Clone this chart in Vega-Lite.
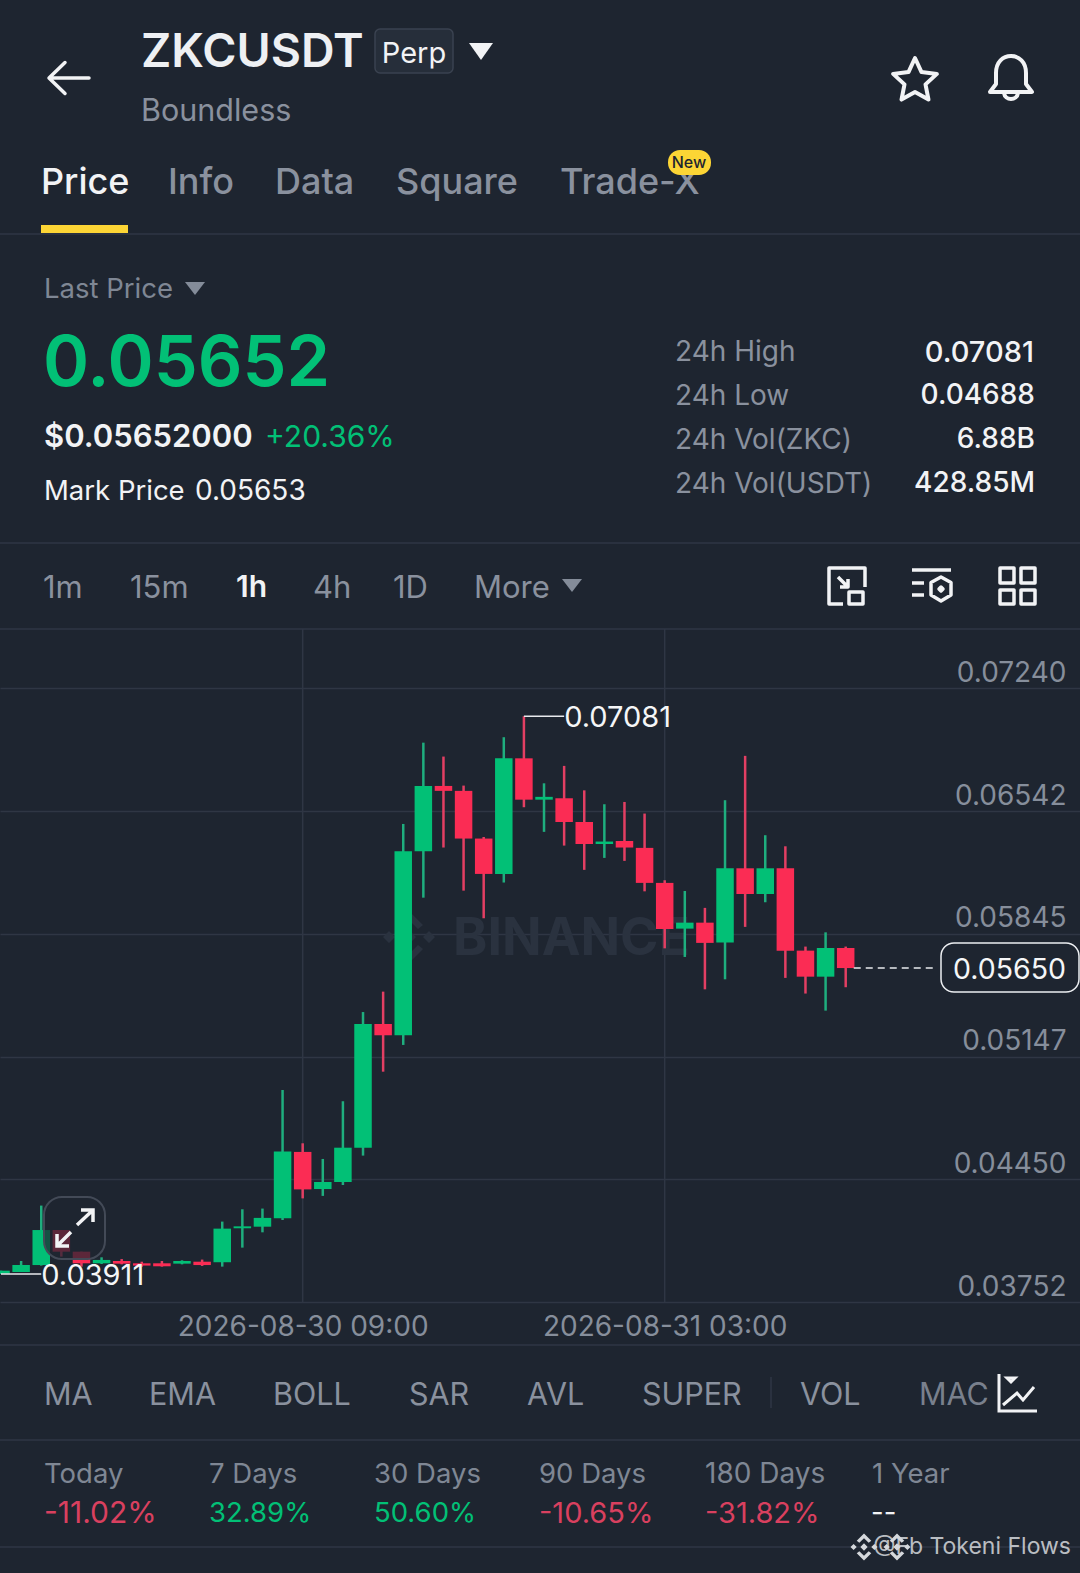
{
  "$schema": "https://vega.github.io/schema/vega-lite/v6.json",
  "width": 1080,
  "height": 1573,
  "padding": 0,
  "autosize": {"type": "none"},
  "background": "#1e2530",
  "config": {
    "view": {"stroke": null},
    "text": {"font": "Inter", "baseline": "middle", "align": "left", "dy": 2},
    "style": {
      "title": {"fontSize": 46, "fontWeight": 600, "color": "#eef0f3"},
      "tabOn": {"fontSize": 36, "fontWeight": 500, "color": "#f2f3f5"},
      "tab": {"fontSize": 36, "fontWeight": 500, "color": "#8a919e"},
      "grey": {"fontSize": 31, "color": "#8a919e"},
      "greySmall": {"fontSize": 27.5, "color": "#7f8794"},
      "white": {"fontSize": 27.5, "color": "#f2f3f5"},
      "stat": {"fontSize": 28, "fontWeight": 500, "color": "#f2f3f5", "align": "right"},
      "red": {"fontSize": 29, "color": "#d9405f"},
      "green": {"fontSize": 27.5, "color": "#02c076"},
      "price": {"fontSize": 29, "color": "#f5f6f7"}
    }
  },
  "datasets": {
    "candles": [
      {"t": "2026-08-29T18:00", "open": 0.03913, "high": 0.0393, "low": 0.03911, "close": 0.0393},
      {"t": "2026-08-29T19:00", "open": 0.03923, "high": 0.03985, "low": 0.03923, "close": 0.03962},
      {"t": "2026-08-29T20:00", "open": 0.03962, "high": 0.043, "low": 0.03959, "close": 0.04161},
      {"t": "2026-08-29T21:00", "open": 0.04161, "high": 0.04161, "low": 0.0401, "close": 0.04038},
      {"t": "2026-08-29T22:00", "open": 0.04038, "high": 0.04038, "low": 0.03953, "close": 0.03972},
      {"t": "2026-08-29T23:00", "open": 0.03972, "high": 0.04006, "low": 0.03968, "close": 0.03991},
      {"t": "2026-08-30T00:00", "open": 0.03985, "high": 0.03996, "low": 0.03966, "close": 0.0397},
      {"t": "2026-08-30T01:00", "open": 0.03972, "high": 0.03981, "low": 0.03953, "close": 0.03959},
      {"t": "2026-08-30T02:00", "open": 0.03972, "high": 0.03985, "low": 0.03953, "close": 0.03955},
      {"t": "2026-08-30T03:00", "open": 0.0397, "high": 0.03989, "low": 0.03966, "close": 0.03985},
      {"t": "2026-08-30T04:00", "open": 0.03981, "high": 0.03993, "low": 0.03957, "close": 0.03962},
      {"t": "2026-08-30T05:00", "open": 0.03978, "high": 0.04209, "low": 0.03953, "close": 0.04169},
      {"t": "2026-08-30T06:00", "open": 0.04171, "high": 0.04279, "low": 0.04061, "close": 0.04182},
      {"t": "2026-08-30T07:00", "open": 0.0418, "high": 0.04283, "low": 0.04148, "close": 0.0423},
      {"t": "2026-08-30T08:00", "open": 0.04228, "high": 0.04957, "low": 0.04218, "close": 0.04607},
      {"t": "2026-08-30T09:00", "open": 0.04605, "high": 0.04654, "low": 0.04341, "close": 0.04392},
      {"t": "2026-08-30T10:00", "open": 0.04394, "high": 0.04565, "low": 0.04355, "close": 0.04434},
      {"t": "2026-08-30T11:00", "open": 0.04434, "high": 0.04893, "low": 0.04417, "close": 0.04629},
      {"t": "2026-08-30T12:00", "open": 0.04629, "high": 0.054, "low": 0.04584, "close": 0.05332},
      {"t": "2026-08-30T13:00", "open": 0.05332, "high": 0.05516, "low": 0.05061, "close": 0.05268},
      {"t": "2026-08-30T14:00", "open": 0.05268, "high": 0.06469, "low": 0.05213, "close": 0.06314},
      {"t": "2026-08-30T15:00", "open": 0.06314, "high": 0.06931, "low": 0.0605, "close": 0.06685},
      {"t": "2026-08-30T16:00", "open": 0.06685, "high": 0.06852, "low": 0.06335, "close": 0.06657},
      {"t": "2026-08-30T17:00", "open": 0.06657, "high": 0.06687, "low": 0.0609, "close": 0.06386},
      {"t": "2026-08-30T18:00", "open": 0.06386, "high": 0.06395, "low": 0.05933, "close": 0.06185},
      {"t": "2026-08-30T19:00", "open": 0.06185, "high": 0.06962, "low": 0.06136, "close": 0.06842},
      {"t": "2026-08-30T20:00", "open": 0.06842, "high": 0.07081, "low": 0.06564, "close": 0.06607},
      {"t": "2026-08-30T21:00", "open": 0.06607, "high": 0.067, "low": 0.06424, "close": 0.06623},
      {"t": "2026-08-30T22:00", "open": 0.06615, "high": 0.06799, "low": 0.06346, "close": 0.0648},
      {"t": "2026-08-30T23:00", "open": 0.0648, "high": 0.0666, "low": 0.06208, "close": 0.06355},
      {"t": "2026-08-31T00:00", "open": 0.06355, "high": 0.06581, "low": 0.06276, "close": 0.06369},
      {"t": "2026-08-31T01:00", "open": 0.06372, "high": 0.06594, "low": 0.06259, "close": 0.06335},
      {"t": "2026-08-31T02:00", "open": 0.06333, "high": 0.06528, "low": 0.06086, "close": 0.06134},
      {"t": "2026-08-31T03:00", "open": 0.06134, "high": 0.06149, "low": 0.05762, "close": 0.05872},
      {"t": "2026-08-31T04:00", "open": 0.05874, "high": 0.06088, "low": 0.05713, "close": 0.05908},
      {"t": "2026-08-31T05:00", "open": 0.05908, "high": 0.05992, "low": 0.05529, "close": 0.05793},
      {"t": "2026-08-31T06:00", "open": 0.05795, "high": 0.06604, "low": 0.05586, "close": 0.06217},
      {"t": "2026-08-31T07:00", "open": 0.06217, "high": 0.06856, "low": 0.05884, "close": 0.06071},
      {"t": "2026-08-31T08:00", "open": 0.06071, "high": 0.06405, "low": 0.06024, "close": 0.06217},
      {"t": "2026-08-31T09:00", "open": 0.06217, "high": 0.06342, "low": 0.05594, "close": 0.05749},
      {"t": "2026-08-31T10:00", "open": 0.05749, "high": 0.05772, "low": 0.05505, "close": 0.05601},
      {"t": "2026-08-31T11:00", "open": 0.05601, "high": 0.05853, "low": 0.05408, "close": 0.05764},
      {"t": "2026-08-31T12:00", "open": 0.05764, "high": 0.05772, "low": 0.05541, "close": 0.0565}
    ]
  },
  "layer": [
    {
      "data": {"values": [{"t": "2026-08-30T09:00", "top": 0.07577, "bottom": 0.03752}, {"t": "2026-08-31T03:00", "top": 0.07577, "bottom": 0.03752}]},
      "mark": {"type": "rule", "color": "#2f3644", "strokeWidth": 1.5},
      "encoding": {
        "x": {
          "field": "t", "type": "temporal", "title": null,
          "scale": {"domain": ["2026-08-29T17:57", "2026-08-31T23:39"], "range": [0, 1080], "padding": 0},
          "axis": {
            "orient": "bottom", "offset": -271, "values": ["2026-08-30T09:00", "2026-08-31T03:00"], "format": "%Y-%m-%d %H:%M",
            "grid": false, "domain": false, "ticks": false, "labelPadding": 11, "labelFont": "Inter", "labelFontSize": 28,
            "labelColor": "#868e9b", "labelOverlap": false, "labelFlush": false, "labelLimit": 400
          }
        },
        "y": {
          "field": "bottom", "type": "quantitative", "title": null,
          "scale": {"domain": [0.03752, 0.07577], "range": [1302, 629], "zero": false, "nice": false},
          "axis": {
            "orient": "right", "values": [0.03752, 0.0445, 0.05147, 0.05845, 0.06542, 0.0724], "format": ".5f",
            "grid": true, "gridColor": "#2f3644", "gridWidth": 1.5, "domain": false, "ticks": false,
            "labelPadding": -14, "labelAlign": "right", "labelBaseline": "middle", "labelOffset": -15,
            "labelFont": "Inter", "labelFontSize": 28, "labelColor": "#868e9b", "labelOverlap": false, "labelFlush": false
          }
        },
        "y2": {"field": "top"}
      }
    },
    {
      "data": {"values": [{"label": "BINANCE"}]},
      "mark": {"type": "text", "fontSize": 52, "fontWeight": 700, "color": "#2a323f"},
      "encoding": {"x": {"value": 453}, "y": {"value": 937}, "text": {"field": "label"}}
    },
    {
      "data": {"values": [{"item": "watermark logo"}]},
      "mark": {"type": "point", "filled": true, "opacity": 1, "color": "#2a323f", "size": 4, "shape": "M0,-7L7,0L0,7L-7,0Z M-26,0L-20,-6L-14,0L-20,6Z M26,0L20,-6L14,0L20,6Z M0,-26L14,-12L9,-8L0,-17L-9,-8L-14,-12Z M0,26L14,12L9,8L0,17L-9,8L-14,12Z"},
      "encoding": {"x": {"value": 409}, "y": {"value": 937}}
    },
    {
      "data": {"name": "candles"},
      "mark": {"type": "rule", "strokeWidth": 2.5},
      "encoding": {
        "x": {"field": "t", "type": "temporal"},
        "y": {"field": "low", "type": "quantitative"},
        "y2": {"field": "high"},
        "color": {"condition": {"test": "datum.close >= datum.open", "value": "#1fae7e"}, "value": "#e33f63"}
      }
    },
    {
      "data": {"name": "candles"},
      "mark": {"type": "bar", "size": 17.5},
      "encoding": {
        "x": {"field": "t", "type": "temporal"},
        "y": {"field": "open", "type": "quantitative"},
        "y2": {"field": "close"},
        "color": {"condition": {"test": "datum.close >= datum.open", "value": "#02c076"}, "value": "#fb2c54"}
      }
    },
    {
      "data": {"values": [{"item": "expand button"}]},
      "mark": {"type": "rect", "fill": "#1e2530", "fillOpacity": 0.72, "stroke": "#434a57", "strokeWidth": 2, "cornerRadius": 18},
      "encoding": {"x": {"value": 44}, "x2": {"value": 105}, "y": {"value": 1197}, "y2": {"value": 1259}}
    },
    {
      "data": {"values": [{"t": "2026-08-29T18:00", "t2": "2026-08-29T20:00", "price": 0.03911}, {"t": "2026-08-30T20:00", "t2": "2026-08-30T22:00", "price": 0.07081}]},
      "mark": {"type": "rule", "color": "#e8eaed", "strokeWidth": 1.5},
      "encoding": {
        "x": {"field": "t", "type": "temporal"},
        "x2": {"field": "t2"},
        "y": {"field": "price", "type": "quantitative"}
      }
    },
    {
      "data": {"values": [{"t2": "2026-08-29T20:00", "price": 0.03911, "label": "0.03911"}, {"t2": "2026-08-30T22:00", "price": 0.07081, "label": "0.07081"}]},
      "mark": {"type": "text", "style": "price"},
      "encoding": {
        "x": {"field": "t2", "type": "temporal"},
        "y": {"field": "price", "type": "quantitative"},
        "text": {"field": "label"}
      }
    },
    {
      "data": {"values": [{"t": "2026-08-31T12:24", "t2": "2026-08-31T16:32", "price": 0.0565}]},
      "mark": {"type": "rule", "color": "#e8eaed", "strokeWidth": 1.5, "strokeDash": [7, 5]},
      "encoding": {
        "x": {"field": "t", "type": "temporal"},
        "x2": {"field": "t2"},
        "y": {"field": "price", "type": "quantitative"}
      }
    },
    {
      "data": {"values": [{"item": "last price box"}]},
      "mark": {"type": "rect", "fill": "#1e2530", "stroke": "#eceef1", "strokeWidth": 1.5, "cornerRadius": 13},
      "encoding": {"x": {"value": 941}, "x2": {"value": 1079}, "y": {"value": 943}, "y2": {"value": 992}}
    },
    {
      "data": {"values": [{"label": "0.05650"}]},
      "mark": {"type": "text", "style": "price", "align": "right", "fontSize": 28.5},
      "encoding": {"x": {"value": 1066}, "y": {"value": 968}, "text": {"field": "label"}}
    },

    {"data": {"values": [{"item": "line"}]}, "mark": {"type": "rule", "color": "#2f3644", "strokeWidth": 1.5}, "encoding": {"x": {"value": 0}, "x2": {"value": 1080}, "y": {"value": 234}}},
    {"data": {"values": [{"item": "line"}]}, "mark": {"type": "rule", "color": "#2f3644", "strokeWidth": 1.5}, "encoding": {"x": {"value": 0}, "x2": {"value": 1080}, "y": {"value": 543}}},
    {"data": {"values": [{"item": "line"}]}, "mark": {"type": "rule", "color": "#2f3644", "strokeWidth": 1.5}, "encoding": {"x": {"value": 0}, "x2": {"value": 1080}, "y": {"value": 629}}},
    {"data": {"values": [{"item": "line"}]}, "mark": {"type": "rule", "color": "#2f3644", "strokeWidth": 1.5}, "encoding": {"x": {"value": 0}, "x2": {"value": 1080}, "y": {"value": 1345}}},
    {"data": {"values": [{"item": "line"}]}, "mark": {"type": "rule", "color": "#2f3644", "strokeWidth": 1.5}, "encoding": {"x": {"value": 0}, "x2": {"value": 1080}, "y": {"value": 1440}}},
    {"data": {"values": [{"item": "line"}]}, "mark": {"type": "rule", "color": "#2f3644", "strokeWidth": 1.5}, "encoding": {"x": {"value": 0}, "x2": {"value": 1080}, "y": {"value": 1547}}},
    {"data": {"values": [{"item": "line"}]}, "mark": {"type": "rule", "color": "#2f3644", "strokeWidth": 1.5}, "encoding": {"x": {"value": 771}, "y": {"value": 1377}, "y2": {"value": 1408}}},

    {"data": {"values": [{"label": "ZKCUSDT"}]}, "mark": {"type": "text", "style": "title", "fontSize": 46.5}, "encoding": {"x": {"value": 141}, "y": {"value": 51}, "text": {"field": "label"}}},
    {"data": {"values": [{"item": "perp badge"}]}, "mark": {"type": "rect", "fill": "#262e3a", "stroke": "#3a4250", "strokeWidth": 1.5, "cornerRadius": 5}, "encoding": {"x": {"value": 375}, "x2": {"value": 453}, "y": {"value": 29}, "y2": {"value": 73}}},
    {"data": {"values": [{"label": "Perp"}]}, "mark": {"type": "text", "style": "white", "align": "center", "fontSize": 29}, "encoding": {"x": {"value": 414}, "y": {"value": 52}, "text": {"field": "label"}}},
    {"data": {"values": [{"item": "symbol arrow"}]}, "mark": {"type": "point", "filled": true, "opacity": 1, "color": "#f2f3f5", "size": 4, "shape": "M-12,-8H12L0,9Z"}, "encoding": {"x": {"value": 481}, "y": {"value": 51}}},
    {"data": {"values": [{"label": "Boundless"}]}, "mark": {"type": "text", "style": "grey", "fontSize": 30.5}, "encoding": {"x": {"value": 141}, "y": {"value": 110}, "text": {"field": "label"}}},
    {"data": {"values": [{"item": "back"}]}, "mark": {"type": "point", "opacity": 1, "color": "#f2f3f5", "strokeWidth": 3.5, "strokeCap": "round", "strokeJoin": "round", "size": 4, "shape": "M20,0H-19M-4,-15.5L-20,0L-4,15.5"}, "encoding": {"x": {"value": 69}, "y": {"value": 78}}},
    {"data": {"values": [{"item": "star"}]}, "mark": {"type": "point", "opacity": 1, "color": "#f2f3f5", "strokeWidth": 4, "strokeJoin": "round", "size": 4, "shape": "M0,-23L6.5,-8.9L21.9,-7.1L10.5,3.4L13.5,18.6L0,11L-13.5,18.6L-10.5,3.4L-21.9,-7.1L-6.5,-8.9Z"}, "encoding": {"x": {"value": 915}, "y": {"value": 81}}},
    {"data": {"values": [{"item": "bell"}]}, "mark": {"type": "point", "opacity": 1, "color": "#f2f3f5", "strokeWidth": 4, "strokeJoin": "round", "size": 4, "shape": "M-21,14L-15,6L-15,-5C-15,-16,-8,-22,0,-22C8,-22,15,-16,15,-5L15,6L21,14Z M-7,15C-6,23,6,23,7,15"}, "encoding": {"x": {"value": 1011}, "y": {"value": 78}}},

    {"data": {"values": [{"label": "Price"}]}, "mark": {"type": "text", "style": "tabOn"}, "encoding": {"x": {"value": 41}, "y": {"value": 181}, "text": {"field": "label"}}},
    {"data": {"values": [{"label": "Info"}]}, "mark": {"type": "text", "style": "tab"}, "encoding": {"x": {"value": 168}, "y": {"value": 181}, "text": {"field": "label"}}},
    {"data": {"values": [{"label": "Data"}]}, "mark": {"type": "text", "style": "tab"}, "encoding": {"x": {"value": 275}, "y": {"value": 181}, "text": {"field": "label"}}},
    {"data": {"values": [{"label": "Square"}]}, "mark": {"type": "text", "style": "tab"}, "encoding": {"x": {"value": 396}, "y": {"value": 181}, "text": {"field": "label"}}},
    {"data": {"values": [{"label": "Trade-X"}]}, "mark": {"type": "text", "style": "tab"}, "encoding": {"x": {"value": 560}, "y": {"value": 181}, "text": {"field": "label"}}},
    {"data": {"values": [{"item": "new badge"}]}, "mark": {"type": "rect", "fill": "#fcd535", "cornerRadius": 12}, "encoding": {"x": {"value": 668}, "x2": {"value": 711}, "y": {"value": 150}, "y2": {"value": 175}}},
    {"data": {"values": [{"label": "New"}]}, "mark": {"type": "text", "align": "center", "fontSize": 16, "fontWeight": 500, "color": "#1e2530", "dy": 0}, "encoding": {"x": {"value": 689}, "y": {"value": 163}, "text": {"field": "label"}}},
    {"data": {"values": [{"item": "tab underline"}]}, "mark": {"type": "rect", "fill": "#fcd535"}, "encoding": {"x": {"value": 41}, "x2": {"value": 128}, "y": {"value": 225}, "y2": {"value": 233}}},

    {"data": {"values": [{"label": "Last Price"}]}, "mark": {"type": "text", "style": "greySmall"}, "encoding": {"x": {"value": 44}, "y": {"value": 288}, "text": {"field": "label"}}},
    {"data": {"values": [{"item": "price arrow"}]}, "mark": {"type": "point", "filled": true, "opacity": 1, "color": "#848c99", "size": 4, "shape": "M-10,-6H10L0,7Z"}, "encoding": {"x": {"value": 195}, "y": {"value": 288}}},
    {"data": {"values": [{"label": "0.05652"}]}, "mark": {"type": "text", "fontSize": 70, "fontWeight": 600, "color": "#02c076"}, "encoding": {"x": {"value": 43}, "y": {"value": 363}, "text": {"field": "label"}}},
    {"data": {"values": [{"label": "$0.05652000"}]}, "mark": {"type": "text", "fontSize": 31, "fontWeight": 600, "color": "#f2f3f5"}, "encoding": {"x": {"value": 44}, "y": {"value": 436}, "text": {"field": "label"}}},
    {"data": {"values": [{"label": "+20.36%"}]}, "mark": {"type": "text", "style": "green", "fontSize": 30}, "encoding": {"x": {"value": 265}, "y": {"value": 436}, "text": {"field": "label"}}},
    {"data": {"values": [{"label": "Mark Price"}]}, "mark": {"type": "text", "style": "white"}, "encoding": {"x": {"value": 44}, "y": {"value": 490}, "text": {"field": "label"}}},
    {"data": {"values": [{"label": "0.05653"}]}, "mark": {"type": "text", "style": "white", "fontSize": 28}, "encoding": {"x": {"value": 195}, "y": {"value": 490}, "text": {"field": "label"}}},

    {"data": {"values": [{"label": "24h High"}]}, "mark": {"type": "text", "style": "grey", "fontSize": 28}, "encoding": {"x": {"value": 675}, "y": {"value": 351}, "text": {"field": "label"}}},
    {"data": {"values": [{"label": "24h Low"}]}, "mark": {"type": "text", "style": "grey", "fontSize": 28}, "encoding": {"x": {"value": 675}, "y": {"value": 395}, "text": {"field": "label"}}},
    {"data": {"values": [{"label": "24h Vol(ZKC)"}]}, "mark": {"type": "text", "style": "grey", "fontSize": 28}, "encoding": {"x": {"value": 675}, "y": {"value": 439}, "text": {"field": "label"}}},
    {"data": {"values": [{"label": "24h Vol(USDT)"}]}, "mark": {"type": "text", "style": "grey", "fontSize": 28}, "encoding": {"x": {"value": 675}, "y": {"value": 483}, "text": {"field": "label"}}},
    {"data": {"values": [{"label": "0.07081"}]}, "mark": {"type": "text", "style": "stat", "fontSize": 29}, "encoding": {"x": {"value": 1034}, "y": {"value": 351}, "text": {"field": "label"}}},
    {"data": {"values": [{"label": "0.04688"}]}, "mark": {"type": "text", "style": "stat"}, "encoding": {"x": {"value": 1035}, "y": {"value": 394}, "text": {"field": "label"}}},
    {"data": {"values": [{"label": "6.88B"}]}, "mark": {"type": "text", "style": "stat"}, "encoding": {"x": {"value": 1035}, "y": {"value": 438}, "text": {"field": "label"}}},
    {"data": {"values": [{"label": "428.85M"}]}, "mark": {"type": "text", "style": "stat"}, "encoding": {"x": {"value": 1035}, "y": {"value": 482}, "text": {"field": "label"}}},

    {"data": {"values": [{"label": "1m"}]}, "mark": {"type": "text", "style": "grey"}, "encoding": {"x": {"value": 43}, "y": {"value": 587}, "text": {"field": "label"}}},
    {"data": {"values": [{"label": "15m"}]}, "mark": {"type": "text", "style": "grey"}, "encoding": {"x": {"value": 130}, "y": {"value": 587}, "text": {"field": "label"}}},
    {"data": {"values": [{"label": "1h"}]}, "mark": {"type": "text", "style": "white", "fontSize": 30, "fontWeight": 600}, "encoding": {"x": {"value": 236}, "y": {"value": 586}, "text": {"field": "label"}}},
    {"data": {"values": [{"label": "4h"}]}, "mark": {"type": "text", "style": "grey"}, "encoding": {"x": {"value": 313}, "y": {"value": 587}, "text": {"field": "label"}}},
    {"data": {"values": [{"label": "1D"}]}, "mark": {"type": "text", "style": "grey"}, "encoding": {"x": {"value": 393}, "y": {"value": 587}, "text": {"field": "label"}}},
    {"data": {"values": [{"label": "More"}]}, "mark": {"type": "text", "style": "grey"}, "encoding": {"x": {"value": 474}, "y": {"value": 587}, "text": {"field": "label"}}},
    {"data": {"values": [{"item": "more arrow"}]}, "mark": {"type": "point", "filled": true, "opacity": 1, "color": "#848c99", "size": 4, "shape": "M-10,-6H10L0,7Z"}, "encoding": {"x": {"value": 572}, "y": {"value": 585}}},
    {"data": {"values": [{"item": "icon"}]}, "mark": {"type": "point", "opacity": 1, "color": "#f2f3f5", "strokeWidth": 3.5, "strokeJoin": "round", "size": 4, "shape": "M-4,18L-18,18L-18,-18L18,-18L18,1M2,6H16V18H2ZM-9,-9L1,1M1,-7L1,1L-7,1"}, "encoding": {"x": {"value": 847}, "y": {"value": 586}}},
    {"data": {"values": [{"item": "icon"}]}, "mark": {"type": "point", "opacity": 1, "color": "#f2f3f5", "strokeWidth": 3.5, "strokeJoin": "round", "size": 4, "shape": "M-19,-16H20M-19,-3H-7M-19,9H-7M10,-9L20,-3.5L20,9L10,15L0,9L0,-3.5ZM10,1L12,3L10,5L8,3Z"}, "encoding": {"x": {"value": 931}, "y": {"value": 586}}},
    {"data": {"values": [{"item": "icon"}]}, "mark": {"type": "point", "opacity": 1, "color": "#f2f3f5", "strokeWidth": 3.5, "strokeJoin": "round", "size": 4, "shape": "M-17,-18H-3V-3H-17ZM4,-18H18V-3H4ZM-17,4H-3V18H-17ZM4,4H18V18H4Z"}, "encoding": {"x": {"value": 1017}, "y": {"value": 586}}},
    {"data": {"values": [{"item": "expand"}]}, "mark": {"type": "point", "opacity": 1, "color": "#f2f3f5", "strokeWidth": 3.5, "size": 4, "shape": "M2,-3L18,-18M6,-18H18V-6M-4,4L-18,18M-18,6V18H-6"}, "encoding": {"x": {"value": 75}, "y": {"value": 1228}}},

    {"data": {"values": [{"label": "MA"}]}, "mark": {"type": "text", "style": "grey", "fontSize": 30.5}, "encoding": {"x": {"value": 44}, "y": {"value": 1394}, "text": {"field": "label"}}},
    {"data": {"values": [{"label": "EMA"}]}, "mark": {"type": "text", "style": "grey", "fontSize": 30.5}, "encoding": {"x": {"value": 149}, "y": {"value": 1394}, "text": {"field": "label"}}},
    {"data": {"values": [{"label": "BOLL"}]}, "mark": {"type": "text", "style": "grey", "fontSize": 30.5}, "encoding": {"x": {"value": 273}, "y": {"value": 1394}, "text": {"field": "label"}}},
    {"data": {"values": [{"label": "SAR"}]}, "mark": {"type": "text", "style": "grey", "fontSize": 30.5}, "encoding": {"x": {"value": 409}, "y": {"value": 1394}, "text": {"field": "label"}}},
    {"data": {"values": [{"label": "AVL"}]}, "mark": {"type": "text", "style": "grey", "fontSize": 30.5}, "encoding": {"x": {"value": 527}, "y": {"value": 1394}, "text": {"field": "label"}}},
    {"data": {"values": [{"label": "SUPER"}]}, "mark": {"type": "text", "style": "grey", "fontSize": 30.5}, "encoding": {"x": {"value": 642}, "y": {"value": 1394}, "text": {"field": "label"}}},
    {"data": {"values": [{"label": "VOL"}]}, "mark": {"type": "text", "style": "grey", "fontSize": 30.5}, "encoding": {"x": {"value": 800}, "y": {"value": 1394}, "text": {"field": "label"}}},
    {"data": {"values": [{"label": "MAC"}]}, "mark": {"type": "text", "style": "grey", "fontSize": 30.5, "opacity": 0.85}, "encoding": {"x": {"value": 919}, "y": {"value": 1394}, "text": {"field": "label"}}},
    {"data": {"values": [{"item": "indicator icon"}]}, "mark": {"type": "point", "opacity": 1, "color": "#f2f3f5", "strokeWidth": 3, "size": 4, "shape": "M-19,-19V18H19M-15,12L-1,0L5,7L16,-6M-11,-15H-3L-7,-11Z"}, "encoding": {"x": {"value": 1018}, "y": {"value": 1393}}},

    {"data": {"values": [{"label": "Today"}]}, "mark": {"type": "text", "style": "greySmall"}, "encoding": {"x": {"value": 44}, "y": {"value": 1473}, "text": {"field": "label"}}},
    {"data": {"values": [{"label": "7 Days"}]}, "mark": {"type": "text", "style": "greySmall"}, "encoding": {"x": {"value": 209}, "y": {"value": 1473}, "text": {"field": "label"}}},
    {"data": {"values": [{"label": "30 Days"}]}, "mark": {"type": "text", "style": "greySmall"}, "encoding": {"x": {"value": 374}, "y": {"value": 1473}, "text": {"field": "label"}}},
    {"data": {"values": [{"label": "90 Days"}]}, "mark": {"type": "text", "style": "greySmall"}, "encoding": {"x": {"value": 539}, "y": {"value": 1473}, "text": {"field": "label"}}},
    {"data": {"values": [{"label": "180 Days"}]}, "mark": {"type": "text", "style": "greySmall", "fontSize": 28}, "encoding": {"x": {"value": 705}, "y": {"value": 1473}, "text": {"field": "label"}}},
    {"data": {"values": [{"label": "1 Year"}]}, "mark": {"type": "text", "style": "greySmall"}, "encoding": {"x": {"value": 872}, "y": {"value": 1473}, "text": {"field": "label"}}},
    {"data": {"values": [{"label": "-11.02%"}]}, "mark": {"type": "text", "style": "red", "fontSize": 30}, "encoding": {"x": {"value": 44}, "y": {"value": 1512}, "text": {"field": "label"}}},
    {"data": {"values": [{"label": "32.89%"}]}, "mark": {"type": "text", "style": "green"}, "encoding": {"x": {"value": 209}, "y": {"value": 1512}, "text": {"field": "label"}}},
    {"data": {"values": [{"label": "50.60%"}]}, "mark": {"type": "text", "style": "green"}, "encoding": {"x": {"value": 374}, "y": {"value": 1512}, "text": {"field": "label"}}},
    {"data": {"values": [{"label": "-10.65%"}]}, "mark": {"type": "text", "style": "red"}, "encoding": {"x": {"value": 539}, "y": {"value": 1512}, "text": {"field": "label"}}},
    {"data": {"values": [{"label": "-31.82%"}]}, "mark": {"type": "text", "style": "red"}, "encoding": {"x": {"value": 705}, "y": {"value": 1512}, "text": {"field": "label"}}},
    {"data": {"values": [{"label": "--"}]}, "mark": {"type": "text", "style": "white"}, "encoding": {"x": {"value": 871}, "y": {"value": 1512}, "text": {"field": "label"}}},

    {"data": {"values": [{"item": "source logo"}]}, "mark": {"type": "point", "filled": true, "opacity": 1, "color": "#d5d8dc", "size": 1.08, "shape": "M0,-7L7,0L0,7L-7,0Z M-26,0L-20,-6L-14,0L-20,6Z M26,0L20,-6L14,0L20,6Z M0,-26L14,-12L9,-8L0,-17L-9,-8L-14,-12Z M0,26L14,12L9,8L0,17L-9,8L-14,12Z"}, "encoding": {"x": {"value": 864}, "y": {"value": 1547}}},
    {"data": {"values": [{"item": "source logo"}]}, "mark": {"type": "point", "filled": true, "opacity": 1, "color": "#d5d8dc", "size": 1.08, "shape": "M0,-7L7,0L0,7L-7,0Z M-26,0L-20,-6L-14,0L-20,6Z M26,0L20,-6L14,0L20,6Z M0,-26L14,-12L9,-8L0,-17L-9,-8L-14,-12Z M0,26L14,12L9,8L0,17L-9,8L-14,12Z"}, "encoding": {"x": {"value": 897}, "y": {"value": 1547}}},
    {"data": {"values": [{"label": "@Fb Tokeni Flows"}]}, "mark": {"type": "text", "align": "right", "fontSize": 23, "color": "#d5d8dc", "opacity": 0.85}, "encoding": {"x": {"value": 1071}, "y": {"value": 1545}, "text": {"field": "label"}}}
  ]
}
